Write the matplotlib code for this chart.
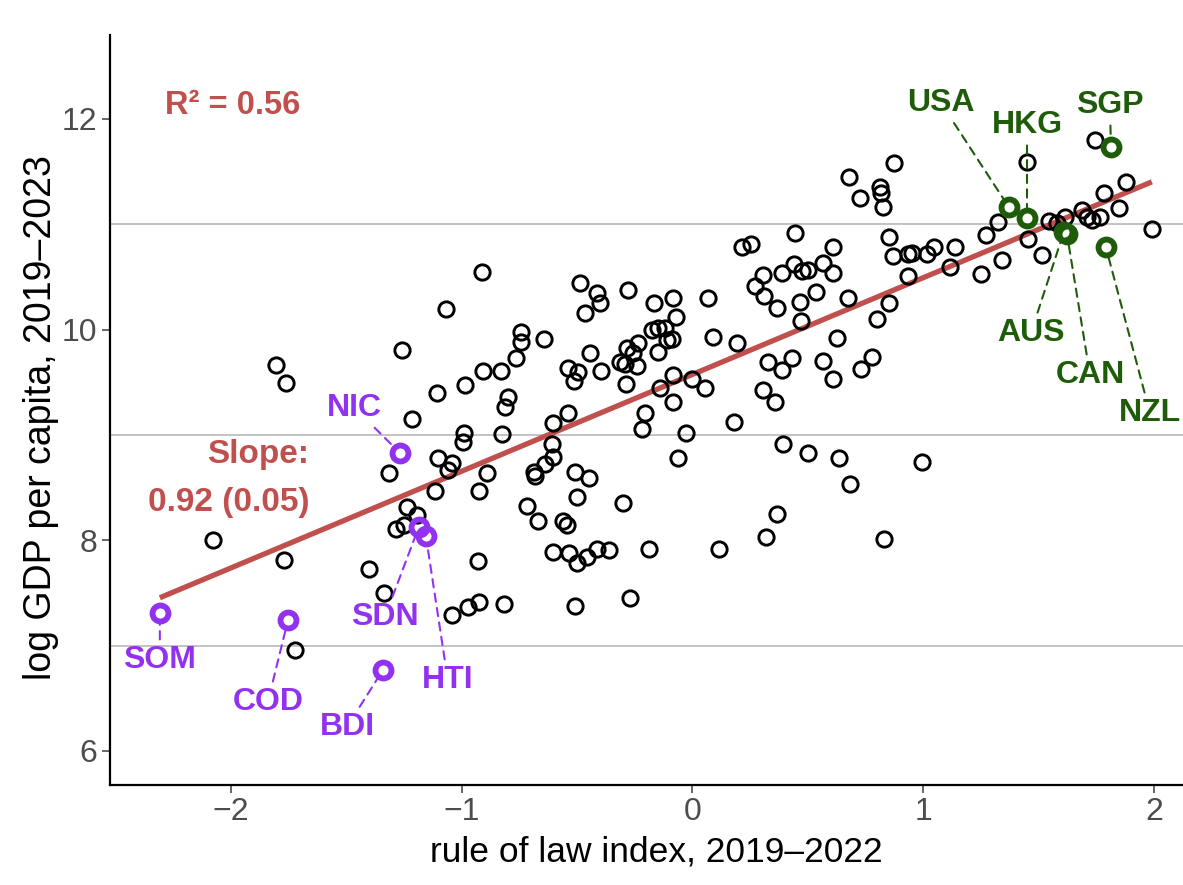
import numpy as np
import matplotlib
matplotlib.use("Agg")
import matplotlib.pyplot as plt

plt.rcParams['font.family'] = ['Liberation Sans', 'DejaVu Sans']

# ---------------- data ----------------
# other countries: rule of law index (x), log GDP per capita (y)
rule_of_law = [
    -2.078, -1.805, -1.762, -1.770, -1.723, -1.259, -0.908, -0.830, -0.986, -1.107,
    -1.216, -0.990, -0.995, -0.826, -1.315, -1.103, -1.042, -1.060, -0.891, -1.116,
    -0.925, -1.237, -1.194, -1.250, -1.285, -1.402, -1.337, -0.930, -0.925, -0.973,
    -1.042, -0.817, -0.912, -1.068, -0.488, -0.414, -0.401, -0.466, -0.280, -0.167,
    -0.085, -0.072, -0.743, -0.743, -0.644, -0.765, -0.800, -0.813, -0.540, -0.496,
    -0.514, -0.444, -0.397, -0.284, -0.258, -0.236, -0.314, -0.293, -0.241, -0.288,
    -0.176, -0.150, -0.119, -0.150, -0.111, -0.089, -0.085, -0.141, -0.085, -0.206,
    -0.219, -0.028, -0.540, -0.605, -0.609, -0.605, -0.639, -0.687, -0.683, -0.509,
    -0.449, -0.063, -0.717, -0.670, -0.561, -0.544, -0.501, -0.301, -0.605, -0.535,
    -0.501, -0.457, -0.414, -0.362, -0.189, -0.509, -0.271, 0.873, 0.678, 0.726,
    0.813, 0.817, 0.826, 0.444, 0.215, 0.254, 0.609, 0.852, 0.869, 0.934,
    0.951, 1.016, 1.047, 0.440, 0.388, 0.475, 0.501, 0.566, 0.609, 0.306,
    0.271, 0.310, 0.366, 0.466, 0.535, 0.470, 0.674, 0.852, 0.800, 0.934,
    0.067, 0.089, 0.193, 0.626, 0.327, 0.388, 0.431, 0.566, 0.609, 0.730,
    0.778, 0.000, 0.054, 0.306, 0.358, 0.180, 0.392, 0.501, 0.635, 0.995,
    0.683, 0.366, 0.319, 0.115, 0.830, 1.744, 1.450, 1.324, 1.272, 1.454,
    1.515, 1.341, 1.250, 1.116, 1.138, 1.545, 1.580, 1.614, 1.688, 1.710,
    1.731, 1.766, 1.783, 1.879, 1.848, 1.991,
]
log_gdp = [
    8.00, 9.66, 9.49, 7.81, 6.96, 9.81, 9.61, 9.61, 9.47, 9.40,
    9.15, 9.02, 8.93, 9.01, 8.64, 8.78, 8.73, 8.67, 8.64, 8.47,
    8.47, 8.32, 8.24, 8.15, 8.11, 7.73, 7.50, 7.80, 7.41, 7.37,
    7.29, 7.40, 10.55, 10.20, 10.44, 10.35, 10.25, 10.16, 10.38, 10.25,
    10.30, 10.12, 9.98, 9.88, 9.91, 9.73, 9.36, 9.27, 9.64, 9.60,
    9.51, 9.78, 9.61, 9.83, 9.78, 9.87, 9.69, 9.67, 9.65, 9.48,
    10.00, 10.02, 10.02, 9.79, 9.90, 9.91, 9.57, 9.45, 9.31, 9.21,
    9.06, 9.02, 9.21, 9.11, 8.91, 8.79, 8.72, 8.65, 8.61, 8.65,
    8.59, 8.78, 8.33, 8.18, 8.18, 8.15, 8.41, 8.35, 7.89, 7.88,
    7.78, 7.84, 7.92, 7.91, 7.92, 7.38, 7.45, 11.58, 11.45, 11.25,
    11.35, 11.30, 11.16, 10.92, 10.78, 10.81, 10.78, 10.88, 10.70, 10.72,
    10.73, 10.72, 10.78, 10.62, 10.54, 10.56, 10.57, 10.63, 10.54, 10.52,
    10.41, 10.32, 10.21, 10.26, 10.36, 10.08, 10.30, 10.25, 10.10, 10.51,
    10.30, 9.93, 9.87, 9.92, 9.69, 9.62, 9.73, 9.70, 9.53, 9.63,
    9.74, 9.53, 9.45, 9.43, 9.31, 9.12, 8.91, 8.83, 8.78, 8.74,
    8.53, 8.25, 8.03, 7.92, 8.01, 11.80, 11.59, 11.02, 10.90, 10.86,
    10.71, 10.66, 10.53, 10.59, 10.78, 11.03, 11.01, 11.07, 11.14, 11.07,
    11.04, 11.07, 11.30, 11.40, 11.15, 10.96,
]

# highlighted low rule-of-law countries
low_codes = ["SOM", "COD", "BDI", "NIC", "SDN", "HTI"]
low_x = [-2.308, -1.753, -1.341, -1.268, -1.185, -1.155]
low_y = [7.31, 7.24, 6.77, 8.83, 8.13, 8.04]

# highlighted high rule-of-law countries
high_codes = ["USA", "HKG", "SGP", "AUS", "CAN", "NZL"]
high_x = [1.372, 1.450, 1.814, 1.610, 1.623, 1.792]
high_y = [11.16, 11.06, 11.73, 10.93, 10.91, 10.78]

r2_text = "R\u00b2 = 0.56"
slope_text = ["Slope:", "0.92 (0.05)"]
x_label = "rule of law index, 2019\u20132022"
y_label = "log GDP per capita, 2019\u20132023"
x_ticks = [-2, -1, 0, 1, 2]
y_ticks = [6, 8, 10, 12]
grid_levels = [7, 9, 11]

# ---------------- layout (label placement) ----------------
label_pos = {
    "SOM": (-2.308, 6.864), "COD": (-1.840, 6.465), "BDI": (-1.497, 6.228),
    "SDN": (-1.333, 7.272), "HTI": (-1.060, 6.674), "NIC": (-1.463, 9.256),
    "USA": (1.077, 12.152), "HKG": (1.450, 11.943), "SGP": (1.809, 12.133),
    "AUS": (1.467, 9.968), "CAN": (1.723, 9.570), "NZL": (1.983, 9.209),
}

RED = "#C0504D"
PURPLE = "#9232F0"
GREEN = "#1F5C0A"
TICKC = "#4D4D4D"

fig = plt.figure(figsize=(11.83, 8.85), dpi=100)
ax = fig.add_axes([110 / 1183, 1 - 785 / 885, 1 - 110 / 1183, (785 - 35) / 885])

ax.set_xlim(-2.524, 2.126)
ax.set_ylim(5.677, 12.797)

for g in grid_levels:
    ax.axhline(g, color="#BEBEBE", lw=1.3, zorder=0)

# regression line from all points
all_x = np.array(rule_of_law + low_x + high_x)
all_y = np.array(log_gdp + low_y + high_y)
b, a = np.polyfit(all_x, all_y, 1)
xs = np.array([all_x.min(), all_x.max()])
ax.plot(xs, a + b * xs, color=RED, lw=3.8, zorder=2, solid_capstyle="butt")

ax.plot(rule_of_law, log_gdp, linestyle="none", marker="o", ms=11,
        mfc="none", mec="black", mew=2.1, zorder=3)
ax.plot(low_x, low_y, linestyle="none", marker="o", ms=11.5,
        mfc="none", mec=PURPLE, mew=4.2, zorder=4)
ax.plot(high_x, high_y, linestyle="none", marker="o", ms=11.5,
        mfc="none", mec=GREEN, mew=4.2, zorder=4)

def add_labels(codes, xs_, ys_, color):
    for c, px, py in zip(codes, xs_, ys_):
        tx, ty = label_pos[c]
        ax.annotate(c, xy=(px, py), xytext=(tx, ty), textcoords="data",
                    ha="center", va="center", fontsize=23, fontweight="bold",
                    color=color, zorder=5,
                    arrowprops=dict(arrowstyle="-", color=color, lw=1.5,
                                    linestyle=(0, (4, 3)), shrinkA=2, shrinkB=6))

add_labels(low_codes, low_x, low_y, PURPLE)
add_labels(high_codes, high_x, high_y, GREEN)

ax.text(-2.286, 12.13, r2_text, color=RED, fontsize=23.5, fontweight="bold",
        ha="left", va="center")
ax.text(-1.66, 8.81, slope_text[0], color=RED, fontsize=24, fontweight="bold",
        ha="right", va="center")
ax.text(-1.66, 8.36, slope_text[1], color=RED, fontsize=24, fontweight="bold",
        ha="right", va="center")

ax.set_xticks(x_ticks)
ax.set_xticklabels(["\u22122", "\u22121", "0", "1", "2"])
ax.set_yticks(y_ticks)
ax.tick_params(axis="both", labelsize=23, labelcolor=TICKC, color=TICKC,
               length=6, width=1.2, direction="out", pad=3)
for s in ["top", "right"]:
    ax.spines[s].set_visible(False)
for s in ["left", "bottom"]:
    ax.spines[s].set_linewidth(1.6)
    ax.spines[s].set_color("black")

ax.set_xlabel(x_label, fontsize=25.5, color="black", va="center")
ax.set_ylabel(y_label, fontsize=27, color="black", va="center")
ax.xaxis.set_label_coords(0.509, -0.089)
ax.yaxis.set_label_coords(-0.064, 0.49)

fig.savefig("out.png", dpi=100)
